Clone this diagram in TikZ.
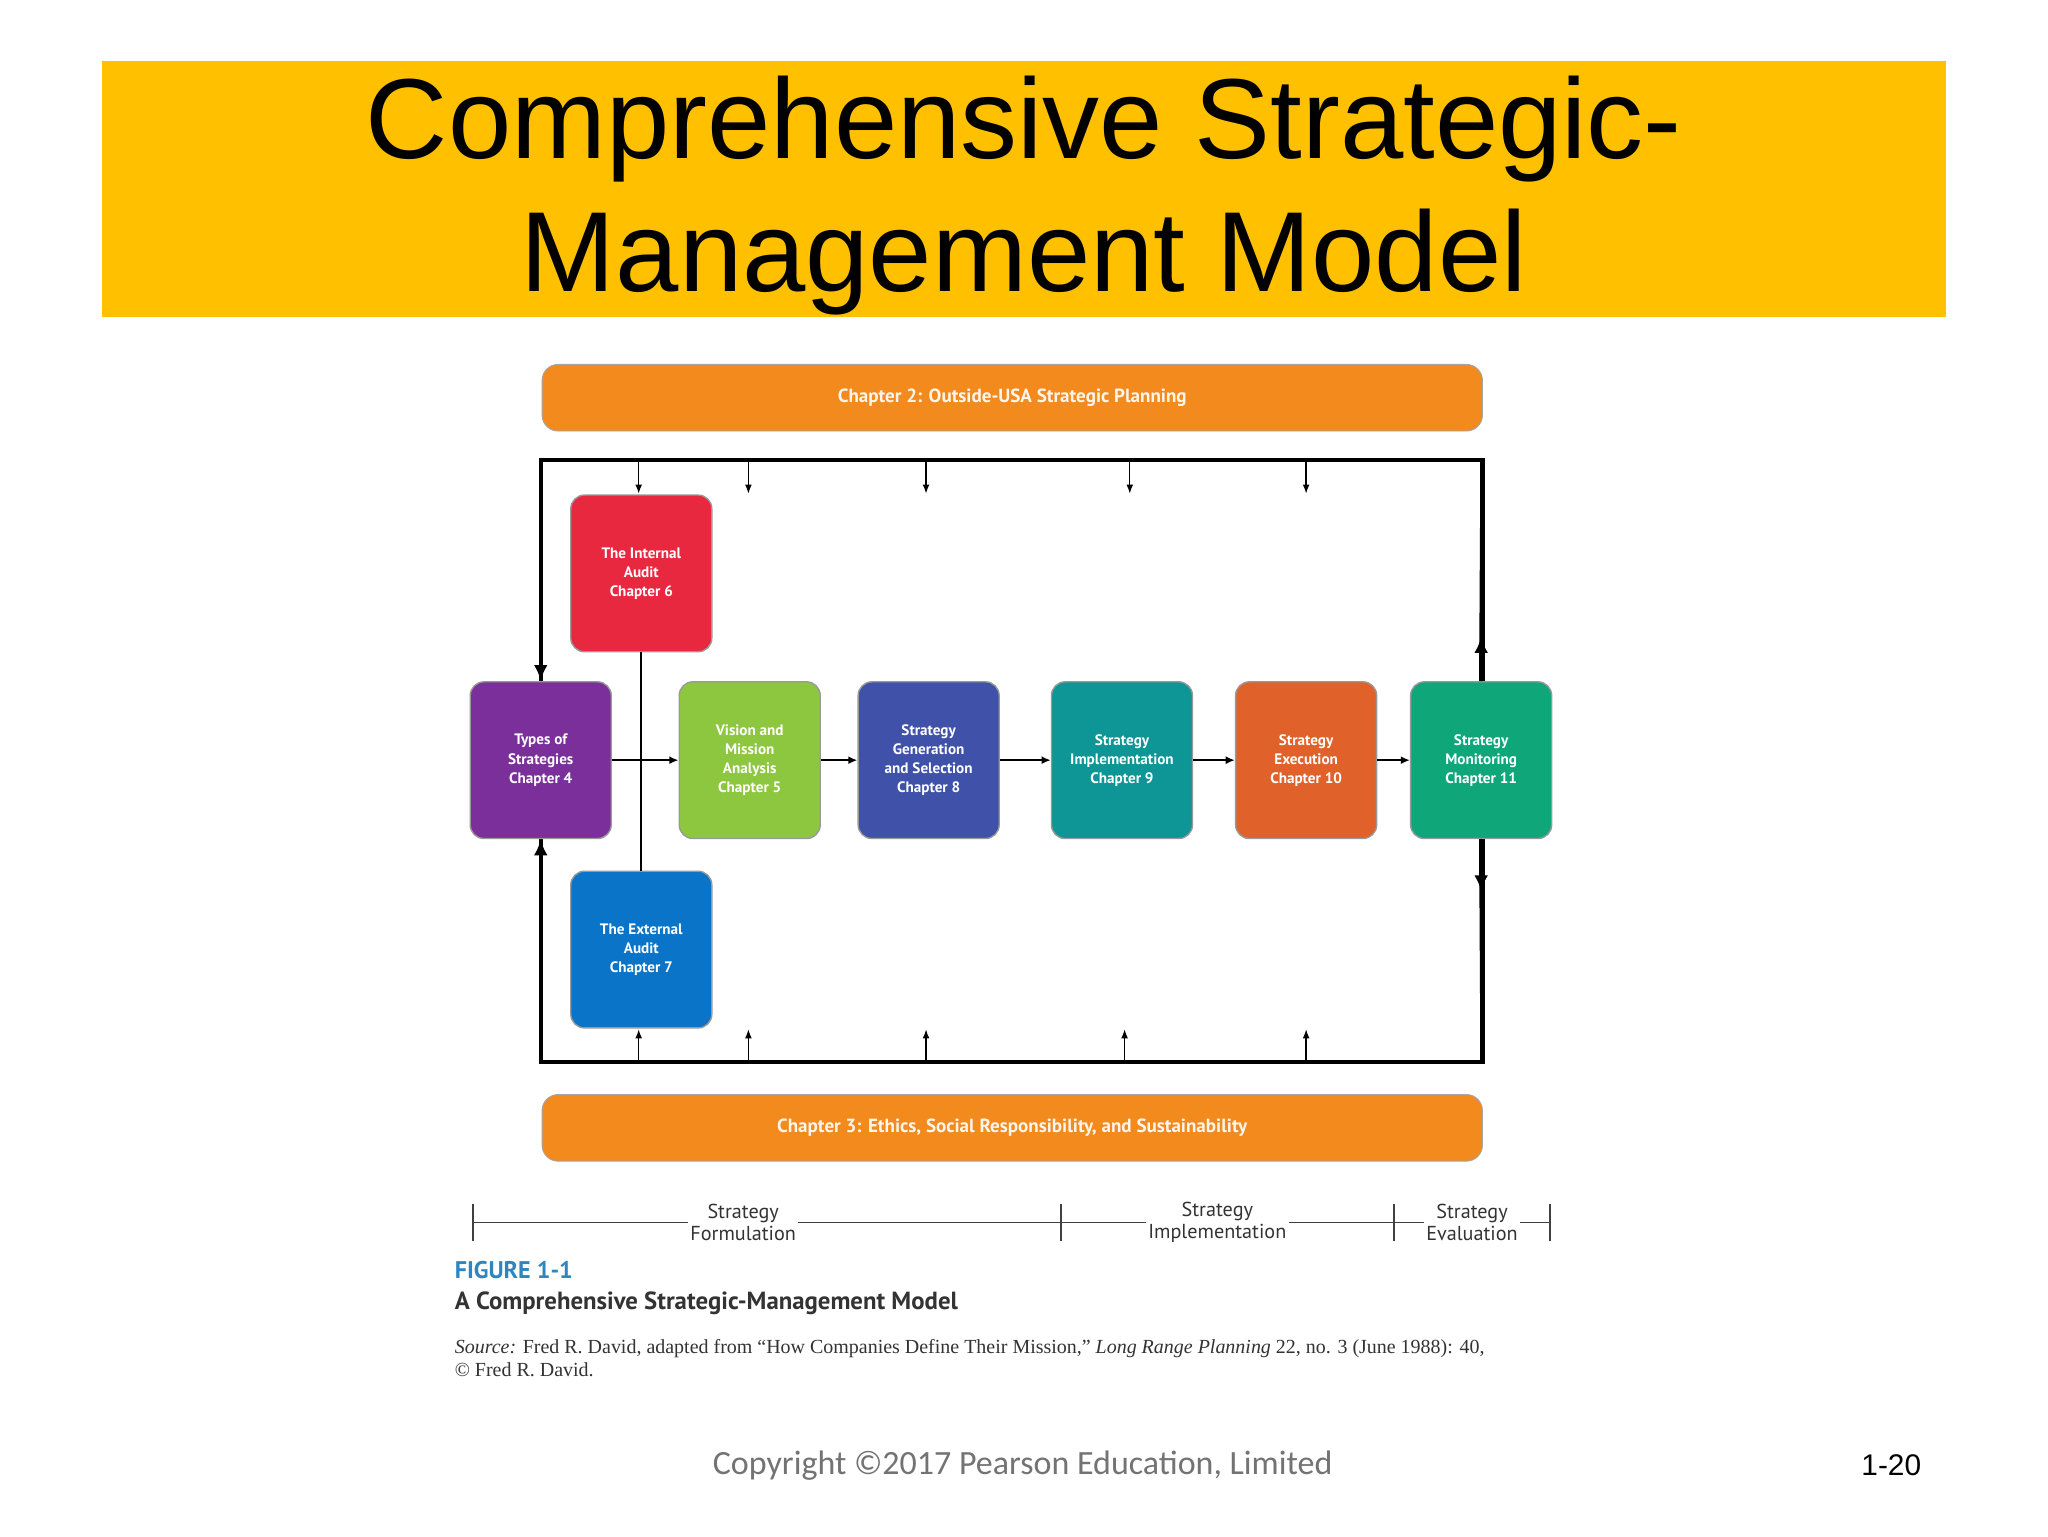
\documentclass[tikz,border=0pt]{standalone}
\usepackage{fontspec}
\setmainfont{Liberation Sans}
\newfontfamily\boxfont{PT Sans}
\newfontfamily\calib{Carlito}
\newfontfamily\serifF{Liberation Serif}
\usetikzlibrary{arrows.meta}
\definecolor{titlebar}{HTML}{FFC000}
\definecolor{obar}{HTML}{F28A1E}
\definecolor{cred}{HTML}{E8283F}
\definecolor{cblue}{HTML}{0A74C8}
\definecolor{cpurple}{HTML}{7B2F9B}
\definecolor{cgreen}{HTML}{8DC63F}
\definecolor{cindigo}{HTML}{3F51A8}
\definecolor{cteal}{HTML}{0E9595}
\definecolor{corange}{HTML}{E0622A}
\definecolor{cmint}{HTML}{0FA67A}
\definecolor{figblue}{HTML}{2E86C1}
\tikzset{
 chbox/.style={draw=black!40,line width=0.6pt,rounded corners=6pt,minimum width=108*0.2mm,minimum height=120*0.2mm,align=center,text=white,font=\boxfont\bfseries\fontsize{6.6}{8.3}\selectfont,inner sep=1pt},
 bar/.style={draw=black!35,fill=obar,rounded corners=7pt,minimum width=720*0.2mm,minimum height=51*0.2mm,text=white!92!orange,font=\boxfont\bfseries\fontsize{8.3}{9}\selectfont},
 frame/.style={line width=1.8pt},
 small/.style={line width=0.6pt,-{Latex[length=4pt,width=3pt]}},
 flow/.style={line width=0.8pt,-{Latex[length=4pt,width=3.5pt]}},
 big/.style={line width=1.8pt,-{Latex[length=7pt,width=6pt]}},
 tl/.style={font=\boxfont\fontsize{8.8}{9.5}\selectfont,align=center,text=black!80,fill=white,inner sep=1pt},
}
\begin{document}
\begin{tikzpicture}[x=0.2mm,y=-0.2mm]
\useasboundingbox[fill=white] (0,0) rectangle (1568,1176);
\fill[titlebar] (78,47) rectangle (1490,243);
\node[font=\fontsize{49.6}{58}\selectfont,align=center] (title) at (784,150) {Comprehensive Strategic-\\Management Model};
\node[bar] (top) at (775,304.5) {Chapter 2: Outside-USA Strategic Planning};
\node[bar] (bot) at (775,863.5) {Chapter 3: Ethics, Social Responsibility, and Sustainability};
\draw[frame] (414,352) rectangle (1135,813);
\node[chbox,fill=cred] (ia) at (491,439) {The Internal\\Audit\\Chapter 6};
\node[chbox,fill=cblue] (ea) at (491,727) {The External\\Audit\\Chapter 7};
\node[chbox,fill=cpurple] (ty) at (414,582) {Types of\\Strategies\\Chapter 4};
\node[chbox,fill=cgreen] (vi) at (574,582) {Vision and\\Mission\\Analysis\\Chapter 5};
\node[chbox,fill=cindigo] (ge) at (711,582) {Strategy\\Generation\\and Selection\\Chapter 8};
\node[chbox,fill=cteal] (im) at (859,582) {Strategy\\Implementation\\Chapter 9};
\node[chbox,fill=corange] (ex) at (1000,582) {Strategy\\Execution\\Chapter 10};
\node[chbox,fill=cmint] (mo) at (1134,582) {Strategy\\Monitoring\\Chapter 11};
\draw[line width=0.8pt] (ia.south) -- (ea.north);
\draw[flow] (ty.east) -- (vi.west);
\draw[flow] (vi.east) -- (ge.west);
\draw[flow] (ge.east) -- (im.west);
\draw[flow] (im.east) -- (ex.west);
\draw[flow] (ex.east) -- (mo.west);
\coordinate (tl) at (414,352); \coordinate (bl) at (414,813);
\coordinate (tr) at (1135,352); \coordinate (br) at (1135,813);
\draw[big] (tl) -- (ty.north);
\draw[big] (bl) -- (ty.south);
\draw[big] (mo.north) -- ++(0,-34);
\draw[frame] (mo.north) -- (tr);
\draw[big] (mo.south) -- ++(0,40);
\draw[frame] (mo.south) -- (br);
\foreach \x in {489,573,709,865,1000}{\coordinate (t\x) at (\x,352); \draw[small] (t\x) -- ++(0,26);}
\foreach \x in {489,573,709,861,1000}{\coordinate (b\x) at (\x,813); \draw[small] (b\x) -- ++(0,-25);}
\coordinate (a0) at (362,936); \coordinate (a1) at (812,936); \coordinate (a2) at (1067,936); \coordinate (a3) at (1187,936);
\draw[line width=0.8pt,black!75] (a0) -- (a3);
\foreach \c in {a0,a1,a2,a3}{\draw[line width=0.8pt,black!75] ([yshift=-0.2mm*14]\c) -- ([yshift=0.2mm*14]\c);}
\node[tl] (sf) at (569,936) {Strategy\\Formulation};
\node[tl] (si) at (932,936) {Strategy\\Implementation};
\node[tl] (se) at (1127,936) {Strategy\\Evaluation};
\node[anchor=west,text=figblue,font=\boxfont\bfseries\fontsize{10.5}{12}\selectfont] (fig) at (342,972) {FIGURE 1-1};
\node[anchor=west,text=black!80,font=\boxfont\bfseries\fontsize{10.8}{12}\selectfont] (cap) at (342,998) {A Comprehensive Strategic-Management Model};
\node[anchor=north west,align=left,text=black!80,font=\serifF\fontsize{8.7}{10}\selectfont] (src) at (342,1019) {\textit{Source:} Fred R. David, adapted from “How Companies Define Their Mission,” \textit{Long Range Planning} 22, no. 3 (June 1988): 40,\\\textcopyright{} Fred R. David.};
\node[text=black!55,font=\calib\fontsize{14.8}{16}\selectfont] (copy) at (783,1122) {Copyright \textcopyright2017 Pearson Education, Limited};
\node[font=\fontsize{13}{15}\selectfont] (pg) at (1448,1122) {1-20};
\end{tikzpicture}
\end{document}
